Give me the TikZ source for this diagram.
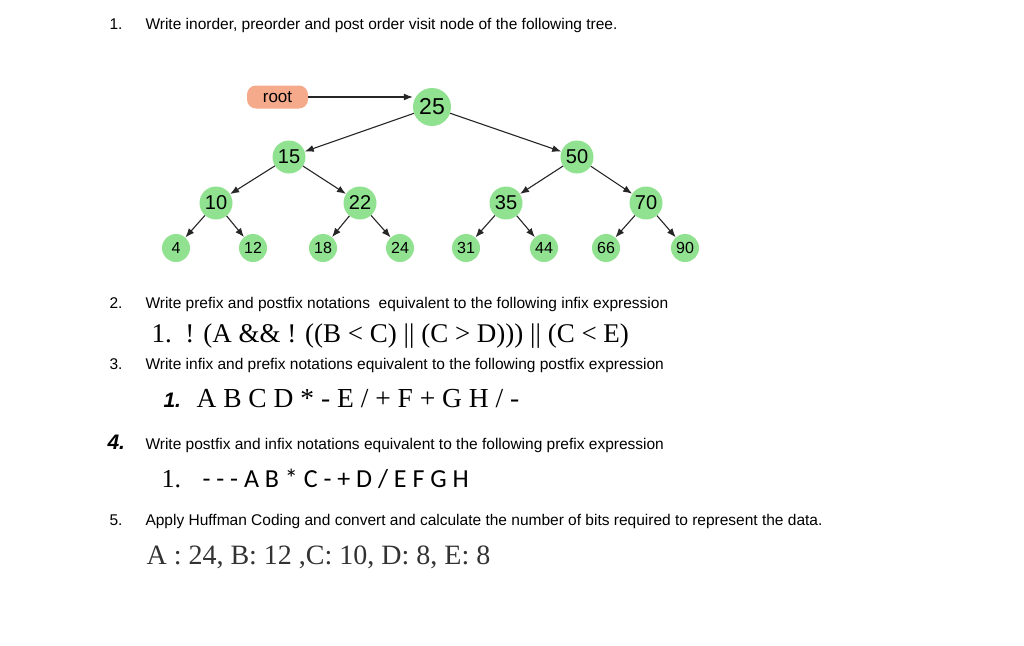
\documentclass[tikz,border=0pt]{standalone}
\usepackage{fontspec}
\usetikzlibrary{arrows.meta}
\setmainfont{Liberation Sans}
\newfontfamily\serif{Liberation Serif}
\newfontfamily\carl{Carlito}
\begin{document}
\begin{tikzpicture}[x=1pt,y=-1pt,
  big/.style={circle,fill={rgb,255:red,144;green,226;blue,144},minimum size=38pt,inner sep=0pt,font=\fontsize{23}{23}\selectfont},
  mid/.style={big,minimum size=33pt,font=\fontsize{20}{20}\selectfont},
  leaf/.style={big,minimum size=28pt,font=\fontsize{16}{16}\selectfont},
  edge/.style={-{Latex[length=9pt,width=7pt]},black!85,line width=1.1pt},
  q/.style={anchor=base west,font=\fontsize{15.5}{16}\selectfont},
  num/.style={anchor=base west,font=\fontsize{15.5}{16}\selectfont}]
\useasboundingbox[fill=white] (0,0) rectangle (1024,645);
\node[num] (n1) at (106,29) {1.};
\node[q] (q1) at (142,29) {Write inorder, preorder and post order visit node of the following tree.};
\node[fill={rgb,255:red,245;green,170;blue,140},rounded corners=9pt,minimum width=61pt,minimum height=23pt,inner sep=0pt,font=\fontsize{17}{17}\selectfont] (root) at (277.5,97) {root};
\node[big] (a25) at (432,107) {25};
\node[mid] (a15) at (289,157) {15};
\node[mid] (a50) at (577,157) {50};
\node[mid] (a10) at (216,203) {10};
\node[mid] (a22) at (360,203) {22};
\node[mid] (a35) at (506,203) {35};
\node[mid] (a70) at (646,203) {70};
\node[leaf] (a4) at (176,248) {4};
\node[leaf] (a12) at (253,248) {12};
\node[leaf] (a18) at (323,248) {18};
\node[leaf] (a24) at (400,248) {24};
\node[leaf] (a31) at (466,248) {31};
\node[leaf] (a44) at (544,248) {44};
\node[leaf] (a66) at (606,248) {66};
\node[leaf] (a90) at (685,248) {90};
\draw[edge] (root) -- (a25.west|-root);
\foreach \p/\c in {a25/a15,a25/a50,a15/a10,a15/a22,a50/a35,a50/a70,a10/a4,a10/a12,a22/a18,a22/a24,a35/a31,a35/a44,a70/a66,a70/a90}
  \draw[edge] (\p) -- (\c);
\node[num] (n2) at (106,308) {2.};
\node[q] (q2) at (142,308) {Write prefix and postfix notations\ \ equivalent to the following infix expression};
\node[anchor=base west,font=\serif\fontsize{27}{27}\selectfont] (e2) at (148,342) {1.\ \ ! (A \&\& ! ((B < C) || (C > D))) || (C < E)};
\node[num] (n3) at (106,369) {3.};
\node[q] (q3) at (142,369) {Write infix and prefix notations equivalent to the following postfix expression};
\node[anchor=base west,font=\bfseries\itshape\fontsize{21}{21}\selectfont] (e3a) at (160,407) {1.};
\node[anchor=base west,font=\serif\fontsize{27.5}{27.5}\selectfont] (e3) at (193,407) {A B C D * - E / + F + G H / -};
\node[anchor=base west,font=\bfseries\itshape\fontsize{21}{21}\selectfont] (n4) at (104,449) {4.};
\node[q] (q4) at (142,449) {Write postfix and infix notations equivalent to the following prefix expression};
\node[anchor=base west,font=\serif\fontsize{26}{26}\selectfont] (e4a) at (158,487) {1.};
\node[anchor=base west,font=\carl\fontsize{26}{26}\selectfont] (e4) at (199,487) {- - - A B * C - + D / E F G H};
\node[num] (n5) at (106,525) {5.};
\node[q] (q5) at (142,525) {Apply Huffman Coding and convert and calculate the number of bits required to represent the data.};
\node[anchor=base west,font=\serif\fontsize{28}{28}\selectfont,text=black!80] (e5) at (143,564) {A : 24, B: 12 ,C: 10, D: 8, E: 8};
\end{tikzpicture}
\end{document}
